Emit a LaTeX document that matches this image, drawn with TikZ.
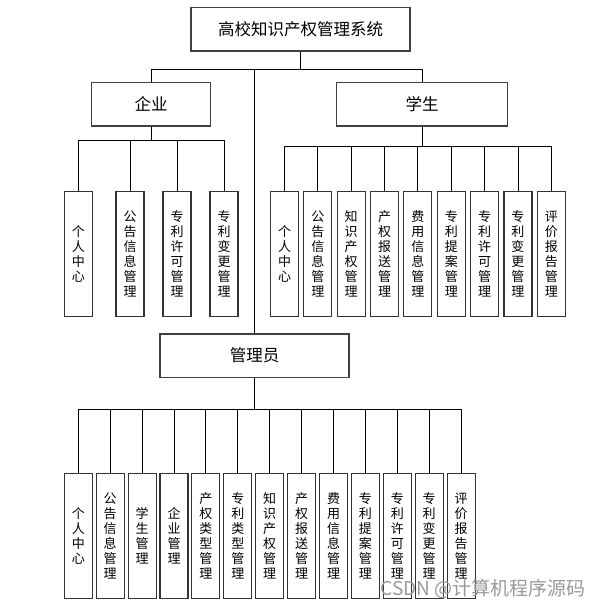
\documentclass[tikz,border=0pt]{standalone}
\usepackage{fontspec}
\setmainfont{Noto Sans CJK SC}
\begin{document}
\begin{tikzpicture}[x=1pt,y=-1pt,
  bigbox/.style={draw=black!75,line width=1.1pt,minimum height=43.5pt,inner sep=0pt,font=\fontsize{16.5}{18}\selectfont},
  leafbox/.style={draw=black!80,line width=1.1pt,minimum width=28pt,minimum height=125pt,inner sep=0pt,align=center,font=\fontsize{13}{15}\selectfont},
  wire/.style={draw=black,line width=0.9pt}]
\useasboundingbox (0,0) rectangle (603,608);
% level 0 and 1
\node[bigbox,minimum width=219pt] (top) at (300.5,29.2) {高校知识产权管理系统};
\node[bigbox,minimum width=119pt] (qy) at (151.2,104.2) {企业};
\node[bigbox,minimum width=171pt] (xs) at (422.2,104.2) {学生};
\node[bigbox,minimum width=189pt] (gly) at (254.5,355.7) {管理员};
\draw[wire] (top.south) -- ++(0,18.3) -| (qy.north);
\draw[wire] (top.south) -- ++(0,18.3) -| (xs.north);
\draw[wire] (top.south) -- ++(0,18.3) -| (gly.north);
% enterprise children
\foreach \i/\x/\t in {1/78.3/{个\\人\\中\\心},2/130/{公\\告\\信\\息\\管\\理},3/177/{专\\利\\许\\可\\管\\理},4/224/{专\\利\\变\\更\\管\\理}}{
  \node[leafbox] (q\i) at (\x,253.9) {\t};
  \draw[wire] (qy.south) -- ++(0,14) -| (q\i.north);
}
% student children
\foreach \i/\t in {0/{个\\人\\中\\心},1/{公\\告\\信\\息\\管\\理},2/{知\\识\\产\\权\\管\\理},3/{产\\权\\报\\送\\管\\理},4/{费\\用\\信\\息\\管\\理},5/{专\\利\\提\\案\\管\\理},6/{专\\利\\许\\可\\管\\理},7/{专\\利\\变\\更\\管\\理},8/{评\\价\\报\\告\\管\\理}}{
  \node[leafbox] (s\i) at ({284.5+33.35*\i},254.2) {\t};
  \draw[wire] (xs.south) -- ++(0,20) -| (s\i.north);
}
% admin children
\foreach \i/\t in {0/{个\\人\\中\\心},1/{公\\告\\信\\息\\管\\理},2/{学\\生\\管\\理},3/{企\\业\\管\\理},4/{产\\权\\类\\型\\管\\理},5/{专\\利\\类\\型\\管\\理},6/{知\\识\\产\\权\\管\\理},7/{产\\权\\报\\送\\管\\理},8/{费\\用\\信\\息\\管\\理},9/{专\\利\\提\\案\\管\\理},10/{专\\利\\许\\可\\管\\理},11/{专\\利\\变\\更\\管\\理},12/{评\\价\\报\\告\\管\\理}}{
  \node[leafbox] (a\i) at ({78.3+31.9*\i},535.8) {\t};
  \draw[wire] (gly.south) -- ++(0,31.7) -| (a\i.north);
}
\node[text=black!40,font=\fontsize{19}{21}\selectfont,inner sep=0pt] (wm) at (483,589) {CSDN @计算机程序源码};
\end{tikzpicture}
\end{document}
